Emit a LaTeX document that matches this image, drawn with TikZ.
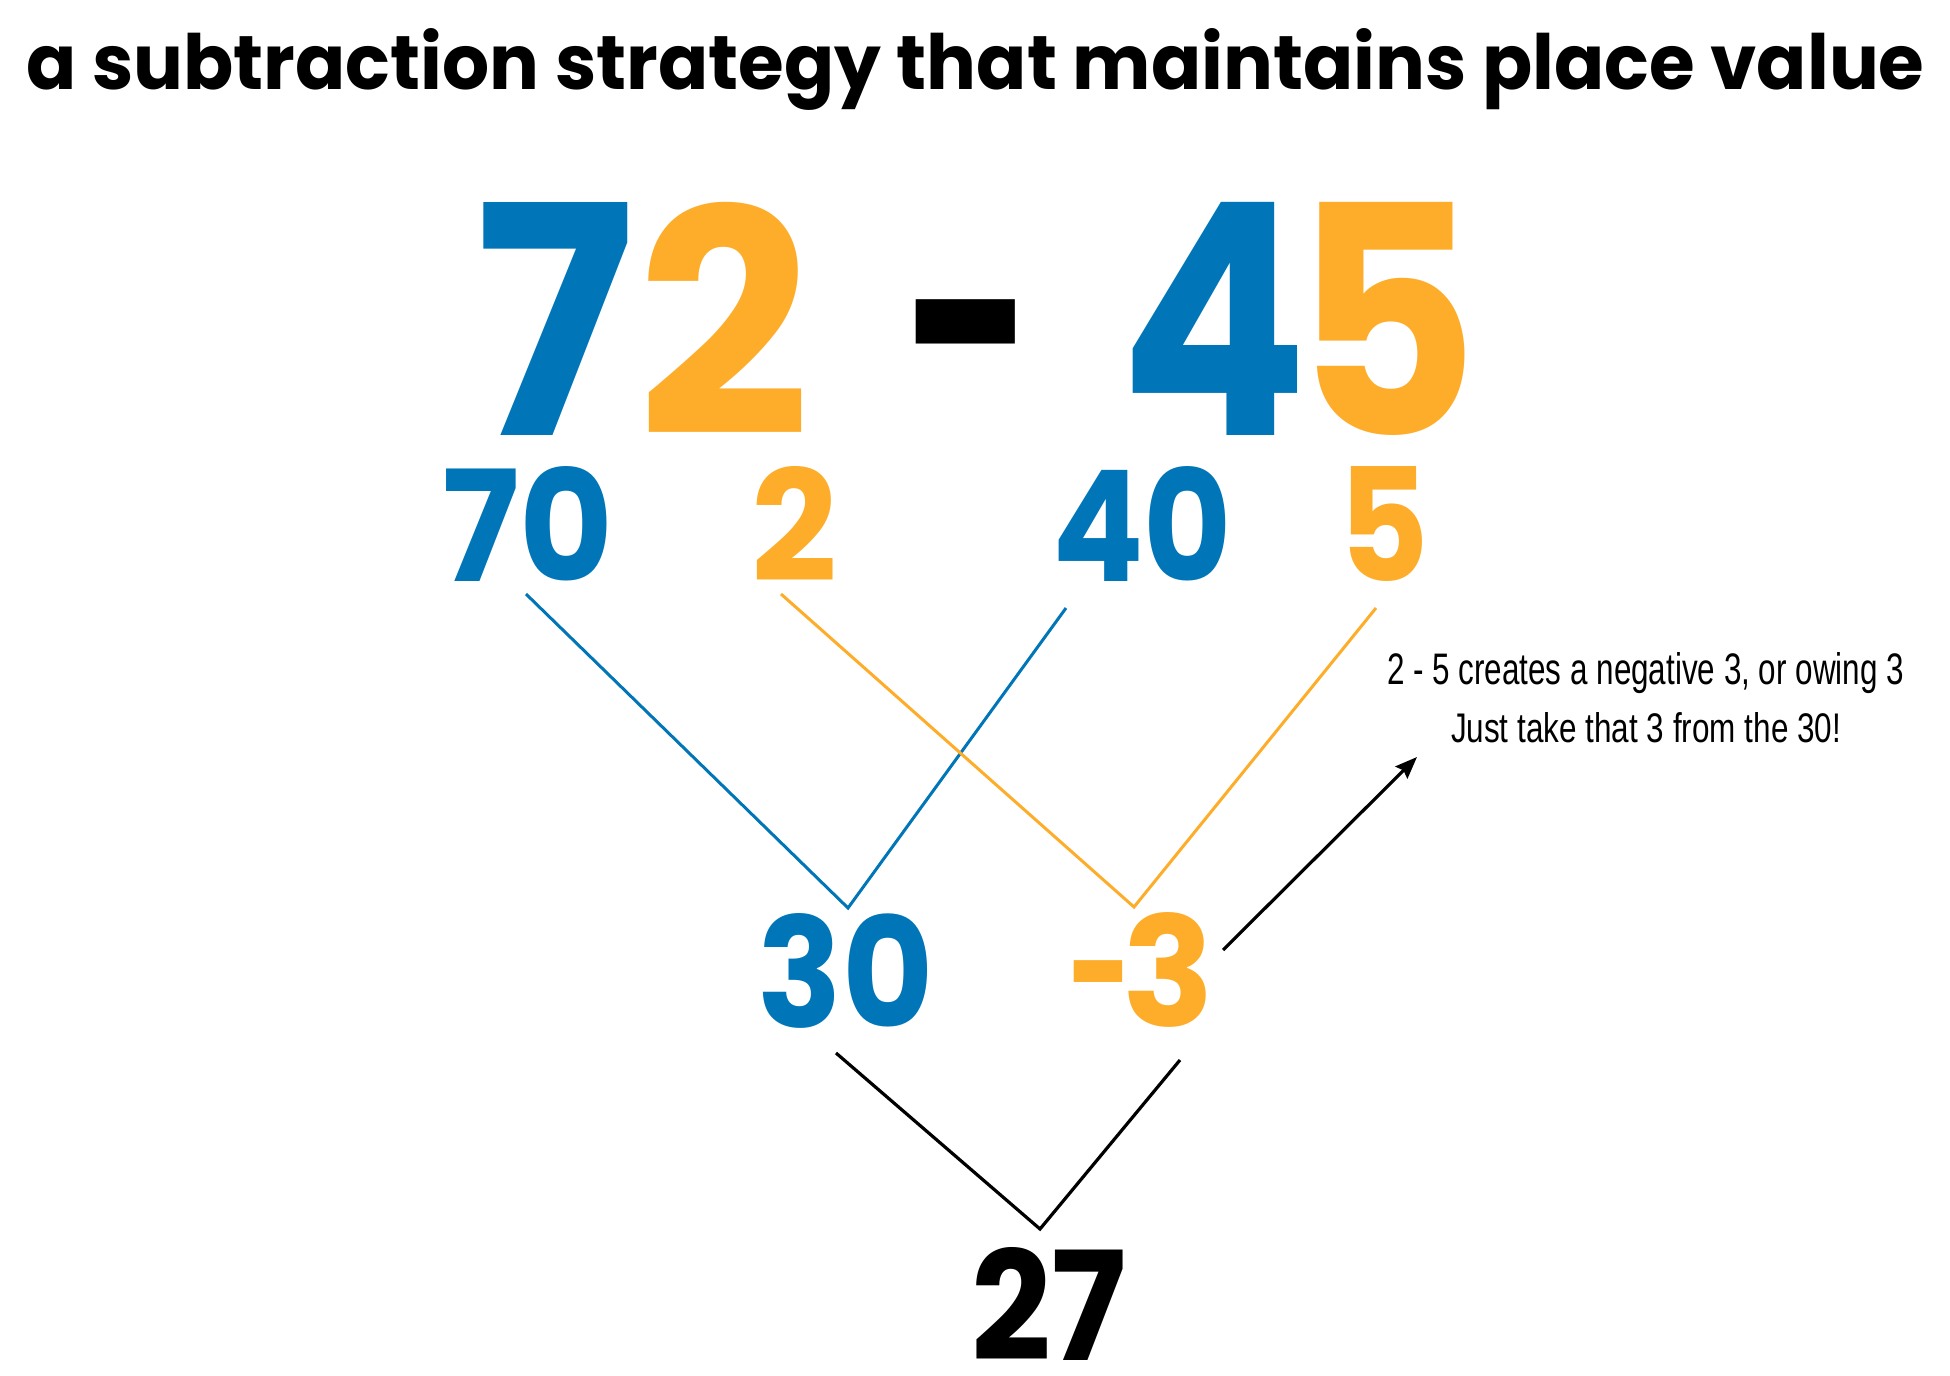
\documentclass[tikz,border=0pt]{standalone}
\usepackage{fontspec}
\setmainfont{Poppins}
\newfontfamily\notefont{Liberation Sans}
\usetikzlibrary{arrows.meta}
\definecolor{pvblue}{RGB}{0,117,184}
\definecolor{pvorange}{RGB}{253,173,42}
\newcommand{\fitg}[3]{\resizebox{#1}{#2}{#3}}
\tikzset{
  glyph/.style={inner sep=0pt, outer sep=0pt, anchor=base, font=\bfseries},
  note/.style={inner sep=0pt, outer sep=0pt, anchor=base, font=\notefont},
  bluelink/.style={draw=pvblue, line width=1.5pt},
  orangelink/.style={draw=pvorange, line width=1.5pt},
  blacklink/.style={draw=black, line width=1.6pt},
}
\begin{document}
\begin{tikzpicture}[x=0.5pt,y=-0.5pt]
\useasboundingbox (0,0) rectangle (1950,1376);
\node[glyph] (title) at (975.5,90) {\resizebox{949pt}{30.5pt}{a subtraction strategy that maintains place value}};

\node[glyph, text=pvblue] (d7) at (555,435) {\fitg{79.6pt}{116.5pt}{7}};
\node[glyph, text=pvorange] (d2) at (724.5,435) {\fitg{86.5pt}{116.5pt}{2}};
\node[glyph] (minus) at (969.5,431) {\scalebox{0.512}[0.71]{\fontsize{220}{220}\selectfont -}};
\node[glyph, text=pvblue] (d4) at (1214,435) {\fitg{94.4pt}{116.5pt}{4}};
\node[glyph, text=pvorange] (d5) at (1386,435) {\fitg{92.7pt}{116.5pt}{5}};

\node[glyph, text=pvblue] (n70) at (528,581) {\fitg{85.5pt}{57.5pt}{70}};
\node[glyph, text=pvorange] (n2) at (795,581) {\fitg{43pt}{57.5pt}{2}};
\node[glyph, text=pvblue] (n40) at (1142,581) {\fitg{90pt}{57.5pt}{40}};
\node[glyph, text=pvorange] (n5) at (1384,581) {\fitg{45.4pt}{57.5pt}{5}};
\node[glyph, text=pvblue] (n30) at (845.5,1027) {\fitg{88pt}{57pt}{30}};
\node[glyph, text=pvorange] (nm) at (1100,1025.5) {\scalebox{0.44}[0.615]{\fontsize{125}{125}\selectfont -}};
\node[glyph, text=pvorange] (n3) at (1168.5,1026) {\fitg{46pt}{57pt}{3}};
\node[glyph] (n27) at (1049,1360) {\fitg{77.4pt}{56.5pt}{27}};

\coordinate (t70) at (526,594);
\coordinate (t2) at (781,594);
\coordinate (t40) at (1066,608);
\coordinate (t5) at (1376,608);
\coordinate (j30) at (848,908);
\coordinate (j3) at (1134,907);
\coordinate (b30) at (836,1053);
\coordinate (b3) at (1180,1060);
\coordinate (j27) at (1040,1229);
\coordinate (as) at (1223,950);
\coordinate (ae) at (1417,757);

\draw[bluelink] (t70) -- (j30) -- (t40);
\draw[orangelink] (t2) -- (j3) -- (t5);
\draw[blacklink] (b30) -- (j27) -- (b3);
\draw[line width=1.6pt, -{Stealth[length=11pt,width=8.5pt,inset=1.5pt]}] (as) -- (ae);

\node[note] (note1) at (1645.5,684) {\resizebox{258.5pt}{16pt}{2 - 5 creates a negative 3, or owing 3}};
\node[note] (note2) at (1646,742) {\resizebox{195pt}{15pt}{Just take that 3 from the 30!}};
\end{tikzpicture}
\end{document}
